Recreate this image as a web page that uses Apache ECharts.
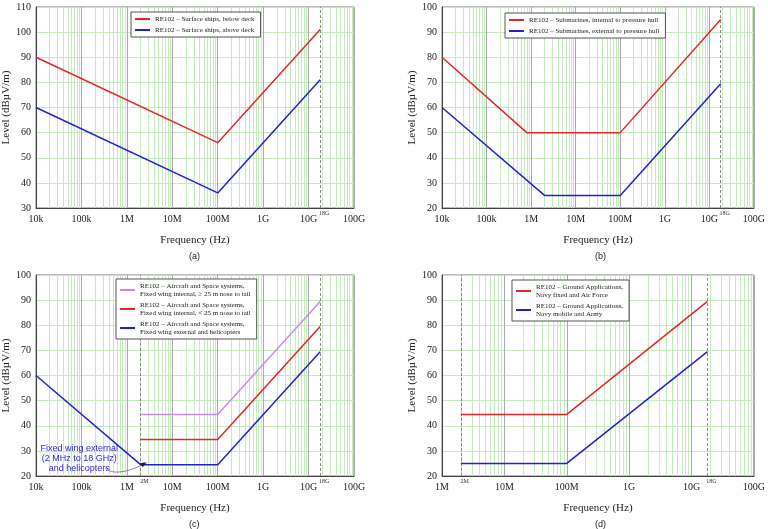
<!DOCTYPE html>
<html>
<head>
<meta charset="utf-8">
<script src="https://cdn.jsdelivr.net/npm/echarts@6/dist/echarts.min.js"></script>
<style>
  html, body { margin: 0; padding: 0; background: #fff; }
  #chart { width: 768px; height: 529px; }
</style>
</head>
<body>
<div id="chart"></div>
<script>
// 数据 — tick labels
var ticksWide = ['10k', '100k', '1M', '10M', '100M', '1G', '10G', '100G'];
var ticksNarrow = ['1M', '10M', '100M', '1G', '10G', '100G'];
var minorSteps = [2, 3, 4, 5, 6, 7, 8, 9];

// (a) surface ships
var freqShip = [1e4, 1e8, 1.8e10];
var shipBelow = [90, 56, 101];
var shipAbove = [70, 36, 81];

// (b) submarines
var freqSubInt = [1e4, 8e5, 1e8, 1.8e10];
var subInternal = [80, 50, 50, 95];
var freqSubExt = [1e4, 2e6, 1e8, 1.8e10];
var subExternal = [60, 25, 25, 69.5];

// (c) aircraft and space
var freqAirExt = [1e4, 2e6, 1e8, 1.8e10];
var airExternal = [60, 24.5, 24.5, 69.5];
var freqAirInt = [2e6, 1e8, 1.8e10];
var airLarge = [44.5, 44.5, 89.5];
var airSmall = [34.5, 34.5, 79.5];

// (d) ground
var freqGround = [2e6, 1e8, 1.8e10];
var groundFixed = [44.5, 44.5, 89.5];
var groundMobile = [25, 25, 69.5];

var SERIF = 'Liberation Serif';
var RED = '#e3262b', BLUE = '#2222cc', PURPLE = '#cc8ae6';

var myChart = echarts.init(document.getElementById('chart'));

// 面板布局
var panels = [
  { left: 36,  top: 7,   xmin: 1e4, xmax: 1e11, ymin: 30, ymax: 110, ticks: ticksWide,   caption: '(a)',
    dashes: [1.8e10], dashLabels: ['18G'],
    legend: { left: 131, top: 12 } },
  { left: 442, top: 7,   xmin: 1e4, xmax: 1e11, ymin: 20, ymax: 100, ticks: ticksWide,   caption: '(b)',
    dashes: [1.8e10], dashLabels: ['18G'],
    legend: { left: 505, top: 13 } },
  { left: 36,  top: 275, xmin: 1e4, xmax: 1e11, ymin: 20, ymax: 100, ticks: ticksWide,   caption: '(c)',
    dashes: [2e6, 1.8e10], dashLabels: ['2M', '18G'],
    legend: { left: 116, top: 279 } },
  { left: 442, top: 275, xmin: 1e6, xmax: 1e11, ymin: 20, ymax: 100, ticks: ticksNarrow, caption: '(d)',
    dashes: [2e6, 1.8e10], dashLabels: ['2M', '18G'],
    legend: { left: 512, top: 280 } }
];
var W = 318, H = 201;

function pairs(xs, ys) {
  return xs.map(function (x, i) { return [x, ys[i]]; });
}

function minorLines(xmin, xmax) {
  var out = [];
  for (var d = xmin; d < xmax; d *= 10) {
    minorSteps.forEach(function (m) { out.push({ xAxis: m * d }); });
  }
  return out;
}

var curves = [
  [ { name: 'RE102 – Surface ships, below deck', x: freqShip, y: shipBelow, color: RED },
    { name: 'RE102 – Surface ships, above deck', x: freqShip, y: shipAbove, color: BLUE } ],
  [ { name: 'RE102 – Submarines, internal to pressure hull', x: freqSubInt, y: subInternal, color: RED },
    { name: 'RE102 – Submarines, external to pressure hull', x: freqSubExt, y: subExternal, color: BLUE } ],
  [ { name: 'RE102 – Aircraft and Space systems,\nFixed wing internal, ≥ 25 m nose to tail', x: freqAirInt, y: airLarge, color: PURPLE },
    { name: 'RE102 – Aircraft and Space systems,\nFixed wing internal, < 25 m nose to tail', x: freqAirInt, y: airSmall, color: RED },
    { name: 'RE102 – Aircraft and Space systems,\nFixed wing external and helicopters', x: freqAirExt, y: airExternal, color: BLUE } ],
  [ { name: 'RE102 – Ground Applications,\nNavy fixed and Air Force', x: freqGround, y: groundFixed, color: RED },
    { name: 'RE102 – Ground Applications,\nNavy mobile and Army', x: freqGround, y: groundMobile, color: BLUE } ]
];

var grid = [], xAxis = [], yAxis = [], series = [], legend = [];

panels.forEach(function (p, k) {
  grid.push({ left: p.left, top: p.top, width: W, height: H, show: true,
    borderColor: '#777', borderWidth: 1, backgroundColor: 'transparent' });

  var firstExp = Math.round(Math.log10(p.xmin));
  xAxis.push({
    type: 'log', logBase: 10, gridIndex: k, min: p.xmin, max: p.xmax,
    splitNumber: p.ticks.length - 1,
    name: 'Frequency (Hz)', nameLocation: 'middle', nameGap: 27,
    nameTextStyle: { fontFamily: SERIF, fontSize: 11, color: '#222' },
    axisLine: { show: true, lineStyle: { color: '#444', width: 1 } },
    axisTick: { show: false },
    axisLabel: {
      fontFamily: SERIF, fontSize: 10, color: '#222', margin: 6,
      formatter: function (v) { return p.ticks[Math.round(Math.log10(v)) - firstExp]; }
    },
    splitLine: { show: true, lineStyle: { color: '#aaaaaa', width: 1 } }
  });
  yAxis.push({
    type: 'value', gridIndex: k, min: p.ymin, max: p.ymax, interval: 10,
    name: 'Level (dBµV/m)', nameLocation: 'middle', nameGap: 21, nameRotate: 90,
    nameTextStyle: { fontFamily: SERIF, fontSize: 11, color: '#222' },
    axisLine: { show: true, lineStyle: { color: '#444', width: 1 } },
    axisTick: { show: false },
    axisLabel: { fontFamily: SERIF, fontSize: 10, color: '#222', margin: 5 },
    splitLine: { show: true, lineStyle: { color: '#c4eabd', width: 1 } }
  });

  // 网格细线 + 虚线标记
  series.push({
    type: 'line', xAxisIndex: k, yAxisIndex: k, data: [], silent: true, z: 1,
    markLine: {
      silent: true, symbol: 'none', animation: false, z: 1,
      label: { show: false },
      lineStyle: { color: '#c4eabd', width: 1, type: 'solid' },
      data: minorLines(p.xmin, p.xmax).concat(p.dashes.map(function (d, j) {
        return {
          xAxis: d,
          lineStyle: { color: '#888', type: [3, 2], width: 1 },
          label: { show: true, position: 'start', formatter: p.dashLabels[j],
            fontFamily: SERIF, fontSize: 6, color: '#333', offset: [4, -3] }
        };
      }))
    }
  });

  curves[k].forEach(function (c) {
    series.push({
      name: c.name, type: 'line', xAxisIndex: k, yAxisIndex: k,
      data: pairs(c.x, c.y), symbol: 'none', showSymbol: false, z: 10, silent: true,
      color: c.color, lineStyle: { color: c.color, width: 1.5 }
    });
  });

  legend.push({
    orient: 'vertical', left: p.legend.left, top: p.legend.top, z: 20,
    data: curves[k].map(function (c) { return c.name; }),
    icon: 'rect', itemWidth: 15, itemHeight: 2,
    backgroundColor: '#fff', borderColor: '#555', borderWidth: 1,
    padding: [3, 6, 3, 4], itemGap: 3,
    selectedMode: false,
    textStyle: { fontFamily: SERIF, fontSize: 7, color: '#222', lineHeight: 8 }
  });
});

myChart.setOption({
  animation: false,
  grid: grid, xAxis: xAxis, yAxis: yAxis, series: series, legend: legend
});

// 标题 (a)(b)(c)(d) 和注释
var graphics = panels.map(function (p) {
  return {
    type: 'text', left: p.left + W / 2 - 6, top: p.top + H + 44,
    style: { text: p.caption, fontFamily: 'Liberation Sans', fontSize: 9, fill: '#222' }
  };
});

var textAt = myChart.convertToPixel({ gridIndex: 2 }, [9e4, 31]);
var tip = myChart.convertToPixel({ gridIndex: 2 }, [2.6e6, 25.5]);
graphics.push({
  type: 'text', x: textAt[0], y: textAt[1] - 5, z: 30,
  style: { text: 'Fixed wing external\n(2 MHz to 18 GHz)\nand helicopters',
    fontFamily: 'Liberation Sans', fontSize: 9, lineHeight: 10, fill: '#2b2bd6', align: 'center' }
});
var sx = textAt[0] + 26, sy = textAt[1] + 20;
graphics.push({
  type: 'bezierCurve', z: 30,
  shape: { x1: sx, y1: sy, cpx1: sx + 6, cpy1: sy + 6, cpx2: tip[0] - 20, cpy2: sy + 5, x2: tip[0] - 2, y2: tip[1] + 2 },
  style: { stroke: '#888', lineWidth: 1, fill: null }
});
graphics.push({
  type: 'polygon', z: 30,
  shape: { points: [[tip[0] + 1, tip[1]], [tip[0] - 6, tip[1] + 1], [tip[0] - 3, tip[1] + 5]] },
  style: { fill: '#222' }
});

myChart.setOption({ graphic: graphics });

window.addEventListener('resize', function () {
  myChart.resize();
});
</script>
</body>
</html>
